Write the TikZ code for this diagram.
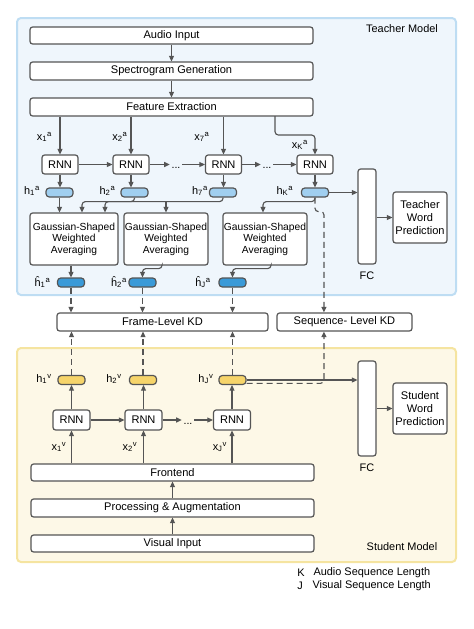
\documentclass[tikz,border=0pt]{standalone}
\usepackage{fontspec}
\setmainfont{Liberation Sans}
\usetikzlibrary{arrows.meta}

\definecolor{lineGray}{RGB}{85,85,85}
\definecolor{teacherBg}{RGB}{239,246,252}
\definecolor{teacherEdge}{RGB}{190,221,243}
\definecolor{studentBg}{RGB}{253,248,231}
\definecolor{studentEdge}{RGB}{245,228,160}
\definecolor{hAudio}{RGB}{160,207,240}
\definecolor{hHat}{RGB}{58,154,216}
\definecolor{hVisual}{RGB}{246,212,106}

\tikzset{every picture/.style={line width=0.75pt}}
\tikzset{
  sz/.style 2 args={minimum width=0.75pt*#1, minimum height=0.75pt*#2},
  block/.style={draw=lineGray, line width=0.9pt, fill=white, rounded corners=2pt, inner sep=0pt, align=center, font=\fontsize{8.3}{10}\selectfont},
  gauss/.style={block, font=\fontsize{7.7}{8.7}\selectfont},
  hstate/.style={draw=lineGray, line width=0.9pt, rounded corners=2.5pt, inner sep=0pt, sz={27}{9}},
  lbl/.style={inner sep=0pt, font=\fontsize{8.2}{9.8}\selectfont},
  dotsnode/.style={inner sep=1pt, text height=6pt, text depth=0pt, font=\fontsize{8}{9.6}\selectfont},
  arr/.style={draw=lineGray, line width=0.85pt, rounded corners=2.5pt, -{Triangle[length=4.2pt,width=3.8pt]}},
  kdline/.style={arr, dash pattern={on 4.5pt off 3pt}},
}

\begin{document}
\begin{tikzpicture}[x=0.75pt,y=0.75pt,yscale=-1,xscale=1]
	\useasboundingbox (0,0) rectangle (474,629);

	%Shape: Rectangle [teacher area]
	\draw [draw=teacherEdge, fill=teacherBg, line width=1.5pt, rounded corners=3pt] (17,18) rectangle (456,295) ;
	%Shape: Rectangle [student area]
	\draw [draw=studentEdge, fill=studentBg, line width=1.5pt, rounded corners=3pt] (17,348) rectangle (456,562) ;

	% Text Node
	\node [lbl] (tmodel) at (402,29) {Teacher Model};
	% Text Node
	\node [lbl] (smodel) at (402,547) {Student Model};

	%Shape: Rectangle [audio front]
	\node [block, sz={283}{17}] (audio) at (171.5,35.5) {Audio Input};
	\node [block, sz={283}{18}] (spec) at (171.5,71) {Spectrogram Generation};
	\node [block, sz={283}{18}] (feat) at (171.5,107) {Feature Extraction};

	%Shape: Rectangle [teacher rnn]
	\node [block, sz={36}{19}] (tr1) at (60,164.5) {RNN};
	\node [block, sz={36}{19}] (tr2) at (131,164.5) {RNN};
	\node [block, sz={36}{19}] (tr3) at (223.5,164.5) {RNN};
	\node [block, sz={36}{19}] (tr4) at (315,164.5) {RNN};
	\node [dotsnode] (tdots1) at (176,164.5) {...};
	\node [dotsnode] (tdots2) at (267,164.5) {...};

	%Shape: Rectangle [teacher hidden states]
	\node [hstate, fill=hAudio] (th1) at (59.5,192.5) {};
	\node [hstate, fill=hAudio] (th2) at (134.5,192.5) {};
	\node [hstate, fill=hAudio] (th7) at (223,192.5) {};
	\node [hstate, fill=hAudio] (thK) at (315,192.5) {};

	%Shape: Rectangle [gaussian averaging]
	\node [gauss, sz={88}{52}] (g1) at (74,239) {Gaussian-Shaped\\Weighted\\Averaging};
	\node [gauss, sz={84}{52}] (g2) at (166,239) {Gaussian-Shaped\\Weighted\\Averaging};
	\node [gauss, sz={84}{52}] (g3) at (265,239) {Gaussian-Shaped\\Weighted\\Averaging};

	%Shape: Rectangle [averaged states]
	\node [hstate, fill=hHat] (hh1) at (71,282.5) {};
	\node [hstate, fill=hHat] (hh2) at (142.5,282.5) {};
	\node [hstate, fill=hHat] (hh3) at (232.5,282.5) {};

	%Shape: Rectangle [teacher head]
	\node [block, sz={18}{95}] (tfc) at (367,216.5) {};
	\node [block, sz={54}{51}] (twp) at (420,217.5) {Teacher\\Word\\Prediction};

	%Shape: Rectangle [distillation]
	\node [block, sz={211}{18}] (fkd) at (162.5,322) {Frame-Level KD};
	\node [block, sz={135}{18}] (skd) at (344.5,322) {Sequence- Level KD};

	%Shape: Rectangle [student hidden states]
	\node [hstate, fill=hVisual] (sh1) at (71.5,380) {};
	\node [hstate, fill=hVisual] (sh2) at (143,380) {};
	\node [hstate, fill=hVisual] (shJ) at (232.5,380) {};

	%Shape: Rectangle [student head]
	\node [block, sz={18}{95}] (sfc) at (367,408.5) {};
	\node [block, sz={54}{51}] (swp) at (420,408.5) {Student\\Word\\Prediction};

	%Shape: Rectangle [student rnn]
	\node [block, sz={37}{20}] (sr1) at (71.5,420) {RNN};
	\node [block, sz={37}{20}] (sr2) at (143.5,420) {RNN};
	\node [block, sz={37}{20}] (sr3) at (232,420) {RNN};
	\node [dotsnode] (sdots) at (188,420) {...};

	%Shape: Rectangle [visual front]
	\node [block, sz={283}{17}] (front) at (172.5,472.5) {Frontend};
	\node [block, sz={283}{18}] (proc) at (172.5,508) {Processing \& Augmentation};
	\node [block, sz={283}{17}] (visual) at (172.5,543.5) {Visual Input};

	%Straight Lines [audio front]
	\draw [arr] (audio) -- (spec) ;
	\draw [arr] (spec) -- (feat) ;
	\coordinate (fbr) at (275,116) ;
	\draw [arr] (tr1 |- feat.south) -- (tr1) ;
	\draw [arr] (tr2 |- feat.south) -- (tr2) ;
	\draw [arr] (tr3 |- feat.south) -- (tr3) ;
	\draw [arr] (fbr) -- ++(0,19) -| (tr4.north) ;

	%Straight Lines [teacher recurrence]
	\draw [arr] (tr1) -- (tr2) ;
	\draw [arr] (tr2) -- (tdots1) ;
	\draw [arr] (tdots1) -- (tr3) ;
	\draw [arr] (tr3) -- (tdots2) ;
	\draw [arr] (tdots2) -- (tr4) ;
	\draw [arr] (tr1.south) -- (tr1.south |- th1.north) ;
	\draw [arr] (tr2.south) -- (tr2.south |- th2.north) ;
	\draw [arr] (tr3.south) -- (tr3.south |- th7.north) ;
	\draw [arr] (tr4.south) -- (tr4.south |- thK.north) ;

	%Straight Lines [into gaussian averaging]
	\draw [arr] (th1.south) -- (th1.south |- g1.north) ;
	\draw [arr] (th2.south) -- ++(0,4) -| ([xshift=6pt]g1.north) ;
	\draw [arr] (th7.south) -- ++(0,4) coordinate (b7) -| ([xshift=23.25pt]g1.north) ;
	\draw [arr] (b7 -| g2.north) -- (g2.north) ;
	\draw [arr] (thK.south) -- ++(0,4) -| ([xshift=-1.5pt]g3.north) ;
	\draw [kdline] (thK.south) -- ++(0,14) -| ([xshift=-15.4pt]skd.north) ;
	\draw [arr] (thK.east) -- (thK.east -| tfc.west) ;
	\draw [arr] (tfc.east |- twp) -- (twp) ;

	%Straight Lines [out of gaussian averaging]
	\draw [arr] (hh1 |- g1.south) -- (hh1) ;
	\draw [arr] ([xshift=-3pt]g2.south) -- ++(0,3) -| (hh2.north) ;
	\draw [arr] ([xshift=4.5pt]g3.south) -- ++(0,3) -| (hh3.north) ;
	\draw [kdline] (hh1.south) -- (hh1.south |- fkd.north) ;
	\draw [kdline] (hh2.south) -- (hh2.south |- fkd.north) ;
	\draw [kdline] (hh3.south) -- (hh3.south |- fkd.north) ;

	%Straight Lines [student to distillation]
	\draw [kdline] (sh1.north) -- (sh1.north |- fkd.south) ;
	\draw [kdline] (sh2.north) -- (sh2.north |- fkd.south) ;
	\draw [kdline] (shJ.north) -- (shJ.north |- fkd.south) ;
	\draw [kdline] ([yshift=2.5pt]shJ.east) -| ([xshift=-15.4pt]skd.south) ;
	\draw [arr] (shJ.east) -- (shJ.east -| sfc.west) ;
	\draw [arr] (sfc.east |- swp) -- (swp) ;

	%Straight Lines [student recurrence]
	\draw [arr] (sr1) -- (sr2) ;
	\draw [arr] (sr2) -- (sdots) ;
	\draw [arr] (sdots) -- (sr3) ;
	\draw [arr] (sr1.north) -- (sr1.north |- sh1.south) ;
	\draw [arr] (sr2.north) -- (sr2.north |- sh2.south) ;
	\draw [arr] (sr3.north) -- (sr3.north |- shJ.south) ;
	\draw [arr] (sr1 |- front.north) -- (sr1) ;
	\draw [arr] (sr2 |- front.north) -- (sr2) ;
	\draw [arr] (sr3 |- front.north) -- (sr3) ;
	\draw [arr] (proc) -- (front) ;
	\draw [arr] (visual) -- (proc) ;

	% Text Node
	\node [lbl] (xa1) at (44.5,137) {x\textsubscript{1}\textsuperscript{a}};
	\node [lbl] (xa2) at (120,137) {x\textsubscript{2}\textsuperscript{a}};
	\node [lbl] (xa7) at (202,137) {x\textsubscript{7}\textsuperscript{a}};
	\node [lbl] (xaK) at (300,145) {x\textsubscript{K}\textsuperscript{a}};
	% Text Node
	\node [lbl] (ha1) at (32,191) {h\textsubscript{1}\textsuperscript{a}};
	\node [lbl] (ha2) at (107.5,191) {h\textsubscript{2}\textsuperscript{a}};
	\node [lbl] (ha7) at (200,191) {h\textsubscript{7}\textsuperscript{a}};
	\node [lbl] (haK) at (285,191) {h\textsubscript{K}\textsuperscript{a}};
	% Text Node
	\node [lbl] (hha1) at (42.5,282) {ĥ\textsubscript{1}\textsuperscript{a}};
	\node [lbl] (hha2) at (119,282) {ĥ\textsubscript{2}\textsuperscript{a}};
	\node [lbl] (hhaJ) at (203,282) {ĥ\textsubscript{J}\textsuperscript{a}};
	% Text Node
	\node [lbl] (tfcl) at (367,276) {FC};
	\node [lbl] (sfcl) at (367,468) {FC};
	% Text Node
	\node [lbl] (hv1) at (44,379) {h\textsubscript{1}\textsuperscript{v}};
	\node [lbl] (hv2) at (114,379) {h\textsubscript{2}\textsuperscript{v}};
	\node [lbl] (hvJ) at (206,379) {h\textsubscript{J}\textsuperscript{v}};
	% Text Node
	\node [lbl] (xv1) at (59,447) {x\textsubscript{1}\textsuperscript{v}};
	\node [lbl] (xv2) at (130,447) {x\textsubscript{2}\textsuperscript{v}};
	\node [lbl] (xvJ) at (220,447) {x\textsubscript{J}\textsuperscript{v}};

	% Text Node
	\node [lbl] (legK) at (301,573) {K};
	\node [lbl, anchor=west] (legKt) at (313,573) {Audio Sequence Length};
	\node [lbl] (legJ) at (300,586) {J};
	\node [lbl, anchor=west] (legJt) at (312,586) {Visual Sequence Length};

\end{tikzpicture}
\end{document}
